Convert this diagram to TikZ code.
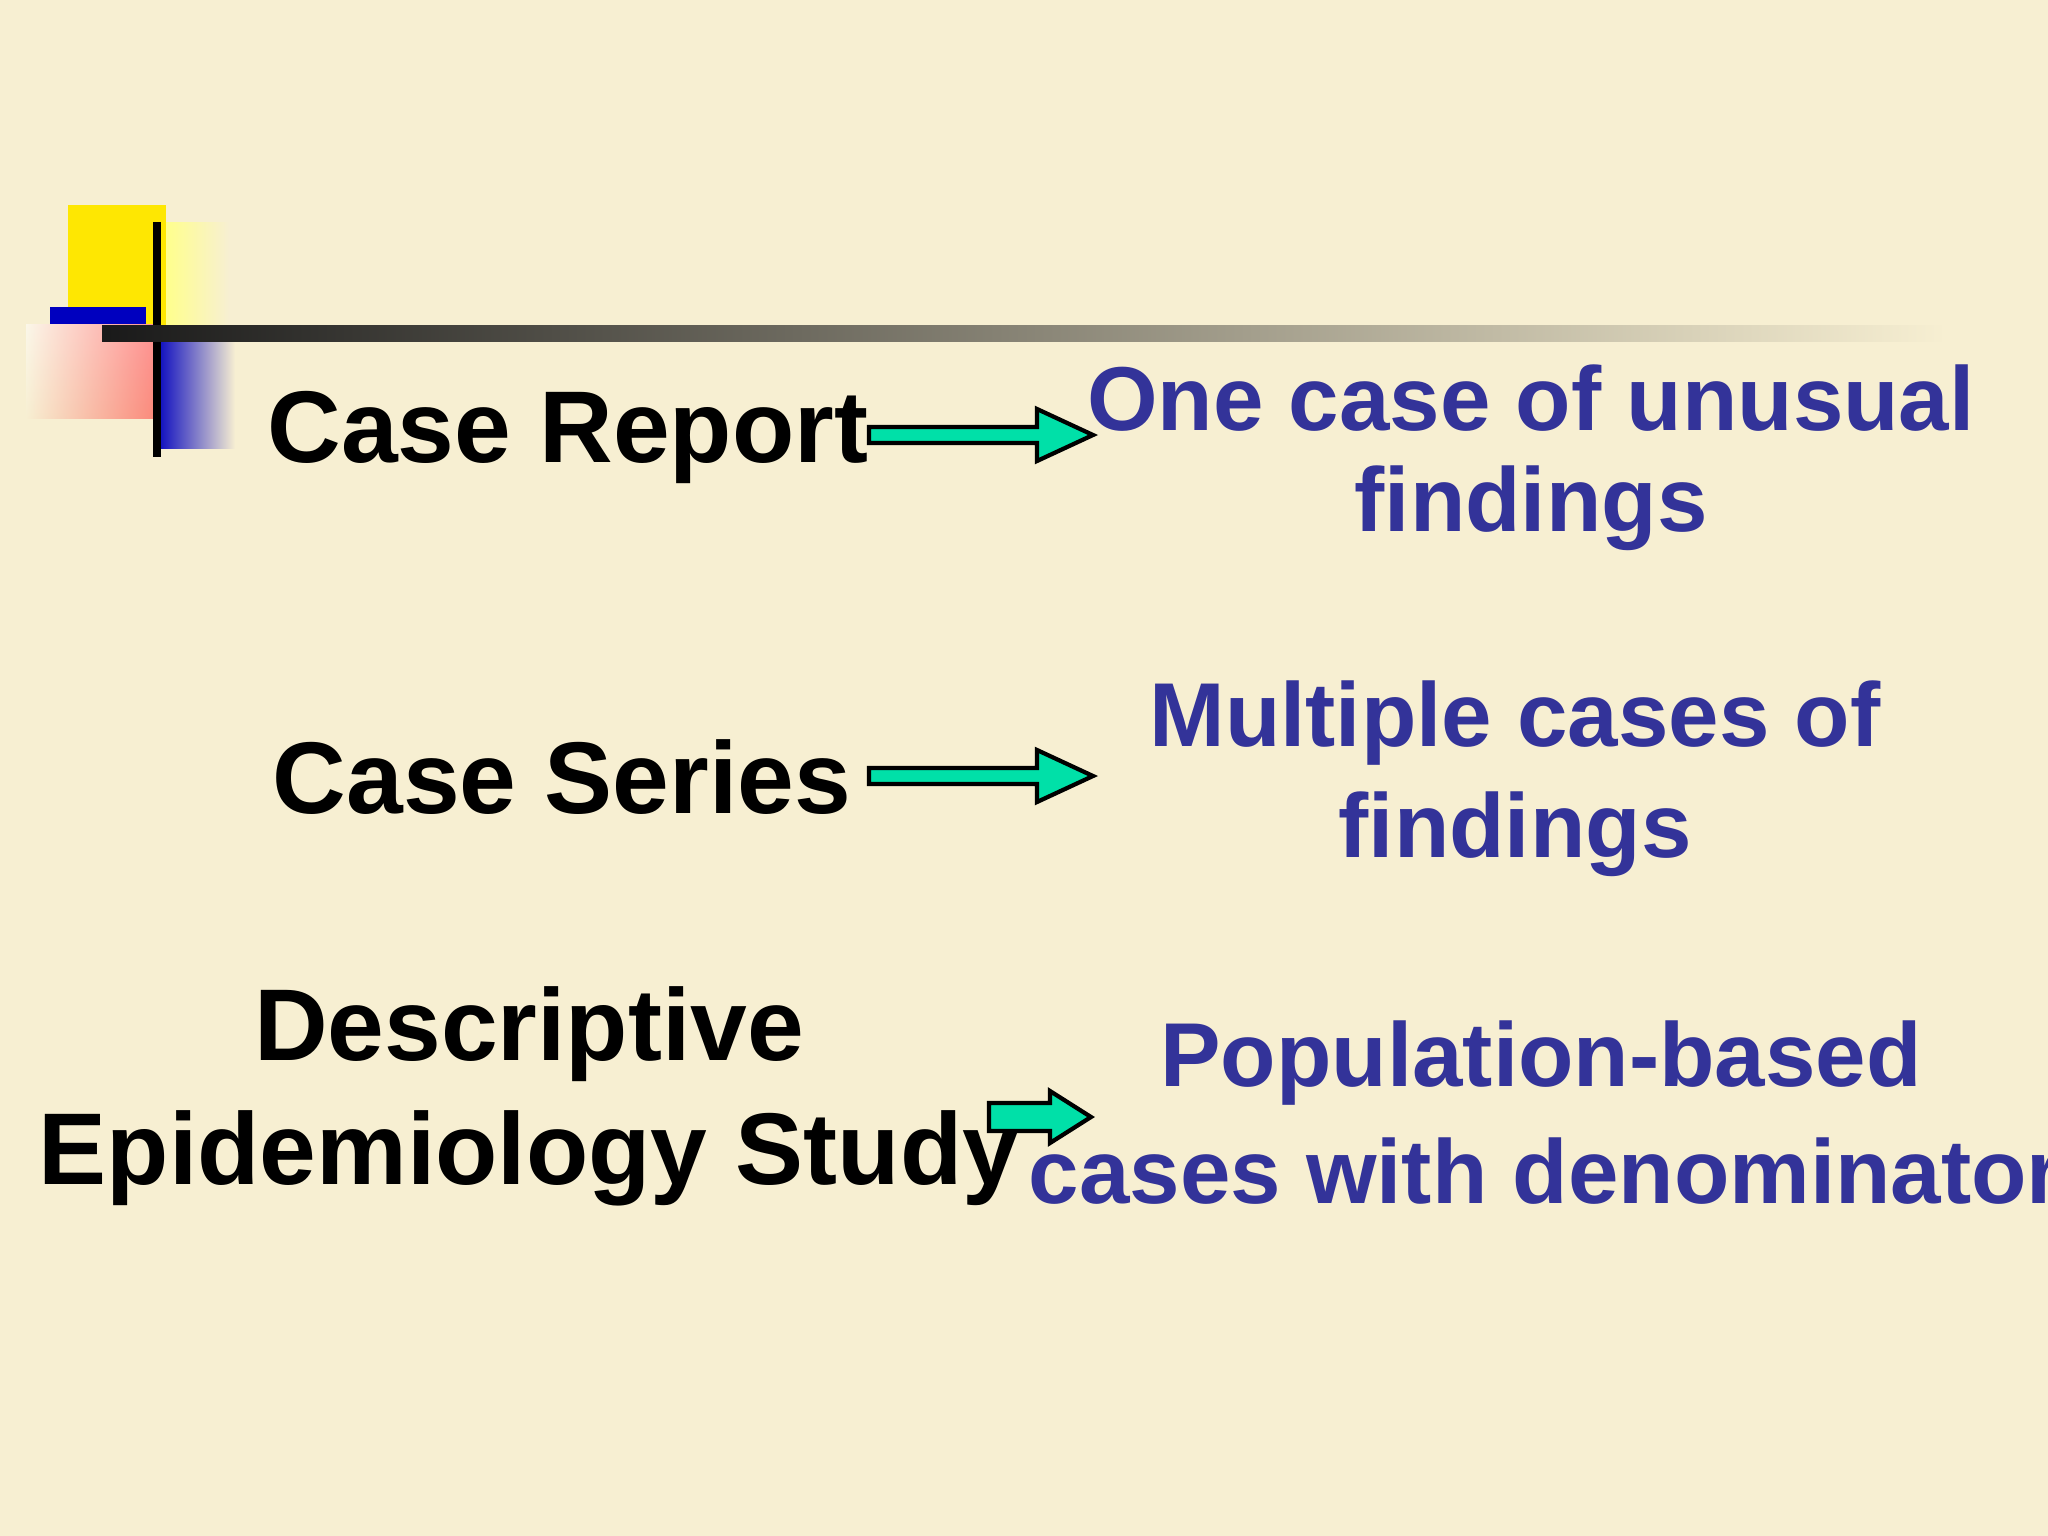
\documentclass[tikz,border=0pt]{standalone}
\usepackage{fontspec}
\setmainfont{Liberation Sans}
\begin{document}
\begin{tikzpicture}[x=0.01cm,y=-0.01cm]
\definecolor{bg}{HTML}{F7EFD2}
\definecolor{bl}{HTML}{333399}
\definecolor{gr}{HTML}{00E0A8}
\tikzset{lab/.style={font=\bfseries\fontsize{29}{35}\selectfont,inner sep=0pt,align=center},
 rlab/.style={lab,font=\bfseries\fontsize{25.8}{31}\selectfont,text=bl},
 arr/.style={fill=gr,draw=black,line width=1.2pt}}
\fill[bg] (0,0) rectangle (2048,1536);
\useasboundingbox (0,0) rectangle (2048,1536);
% logo
\fill[yellow!90!orange] (68,205) rectangle (166,326);
\shade[left color=yellow!45, right color=bg] (166,222) rectangle (229,444);
\fill[blue!75!black] (50,307) rectangle (146,324);
\shade[left color=bg, right color=red!85] (26,324) rectangle (154,418);
\shade[top color=white, bottom color=bg, opacity=0.5] (26,324) rectangle (154,418);
\shade[left color=blue!75!black, right color=bg] (154,333) rectangle (235,448);
\draw[black,line width=2.5pt] (157,222) -- (157,457);
\shade[left color=black!90, right color=bg] (102,325) rectangle (1946,341);
% texts
\node[lab] (cr) at (568,437) {Case Report};
\node[lab] (cs) at (562,777) {Case Series};
\node[lab] (d1) at (529,1034) {Descriptive};
\node[lab] (d2) at (529,1158) {Epidemiology Study};
\node[rlab] (r1a) at (1531,398) {One case of unusual};
\node[rlab] (r1b) at (1531,508) {findings};
\node[rlab] (r2a) at (1515,723) {Multiple cases of};
\node[rlab] (r2b) at (1515,834) {findings};
\node[rlab] (r3a) at (1541,1063) {Population-based};
\node[rlab,anchor=west] (r3b) at (1028,1171) {cases with denominator};
% arrows
\draw[arr] (869,427) -- (1037,427) -- (1037,409) -- (1093,435) -- (1037,461) -- (1037,443) -- (869,443) -- cycle;
\draw[arr] (869,768) -- (1037,768) -- (1037,750) -- (1093,776) -- (1037,802) -- (1037,784) -- (869,784) -- cycle;
\draw[arr] (989,1103) -- (1050,1103) -- (1050,1091) -- (1091,1117) -- (1050,1143) -- (1050,1131) -- (989,1131) -- cycle;
\end{tikzpicture}
\end{document}
